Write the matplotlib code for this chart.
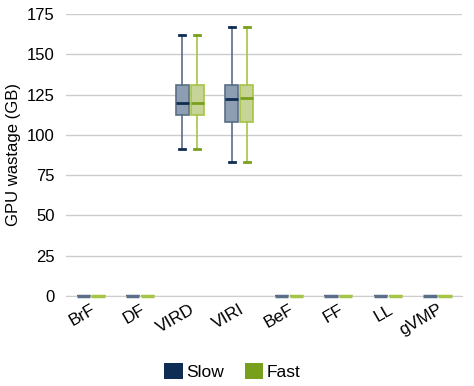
import matplotlib.pyplot as plt
from matplotlib.patches import Patch

plt.rcParams['font.family'] = ['Liberation Sans', 'DejaVu Sans']

# Data
categories = ["BrF", "DF", "VIRD", "VIRI", "BeF", "FF", "LL", "gVMP"]
slow_whislo = [0, 0, 91, 83, 0, 0, 0, 0]
slow_q1 = [0, 0, 112, 108, 0, 0, 0, 0]
slow_med = [0, 0, 120, 122.5, 0, 0, 0, 0]
slow_q3 = [0, 0, 131, 131, 0, 0, 0, 0]
slow_whishi = [0, 0, 162, 167, 0, 0, 0, 0]
fast_whislo = [0, 0, 91, 83, 0, 0, 0, 0]
fast_q1 = [0, 0, 112, 108, 0, 0, 0, 0]
fast_med = [0, 0, 120, 123, 0, 0, 0, 0]
fast_q3 = [0, 0, 131, 131, 0, 0, 0, 0]
fast_whishi = [0, 0, 162, 167, 0, 0, 0, 0]


def make_stats(lo, q1, med, q3, hi):
    return [dict(whislo=a, q1=b, med=c, q3=d, whishi=e, fliers=[])
            for a, b, c, d, e in zip(lo, q1, med, q3, hi)]


fig = plt.figure(figsize=(4.74, 3.86), dpi=100)
ax = fig.add_axes([0.139, 0.233, 0.836, 0.731])

x = range(len(categories))
styles = [
    ("Slow", make_stats(slow_whislo, slow_q1, slow_med, slow_q3, slow_whishi),
     -0.15, "#0f2d52", "#8d9db2", "#5a6e88"),
    ("Fast", make_stats(fast_whislo, fast_q1, fast_med, fast_q3, fast_whishi),
     0.15, "#78a01c", "#c6d497", "#a6c446"),
]
for name, stats, off, dark, fill, light in styles:
    ax.bxp(stats, positions=[i + off for i in x], widths=0.26,
           patch_artist=True, showfliers=False,
           boxprops=dict(facecolor=fill, edgecolor=light, linewidth=1.2,
                         zorder=3),
           medianprops=dict(color=dark, linewidth=2, zorder=4),
           whiskerprops=dict(color=light, linewidth=1.2, zorder=3),
           capprops=dict(color=dark, linewidth=2, zorder=4),
           capwidths=0.12)
    # zero-valued categories render as a flat colored line at 0
    for i, s in enumerate(stats):
        if s["whishi"] == 0:
            ax.plot([i + off - 0.135, i + off + 0.135], [0, 0], color=light,
                    linewidth=2.5, solid_capstyle="butt", zorder=5,
                    clip_on=False)

ax.set_xlim(-0.5, len(categories) - 0.5)
ax.set_ylim(0, 175)
ax.set_yticks(range(0, 176, 25))
ax.set_xticks(list(x))
ax.set_xticklabels(categories, rotation=30, ha="right", rotation_mode="anchor",
                   fontsize=12.5)
ax.tick_params(axis="y", labelsize=12, length=0, pad=8)
ax.tick_params(axis="x", length=0, pad=4)
ax.set_ylabel("GPU wastage (GB)", fontsize=12)
ax.yaxis.grid(True, color="#cccccc", linewidth=1)
ax.set_axisbelow(True)
for s in ["top", "right", "left"]:
    ax.spines[s].set_visible(False)
ax.spines["bottom"].set_color("#cccccc")
ax.spines["bottom"].set_zorder(1)

handles = [Patch(facecolor="#0f2d52", label="Slow"),
           Patch(facecolor="#78a01c", label="Fast")]
fig.legend(handles=handles, loc="lower center", ncol=2, frameon=False,
           fontsize=12.5, bbox_to_anchor=(0.49, -0.025), handlelength=1.05,
           handleheight=1.1, handletextpad=0.2, columnspacing=1.2)

fig.savefig("out.png", dpi=100)
